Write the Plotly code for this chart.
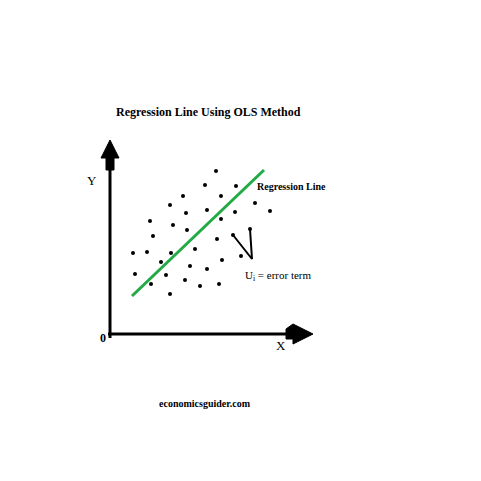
import plotly.graph_objects as go

# scatter points (pixel-like coordinate space, y downward)
pts_x = [208,197,228,175,213,162,247,178,199,227,262,142,213,165,179,242,145,225,209,125,139,163,187,233,214,153,182,199,127,158,143,177,192,211,162]
pts_y = [163,177,178,188,188,197,195,205,202,204,203,213,211,217,222,221,228,227,231,245,244,245,241,248,252,254,258,261,266,267,276,272,278,276,286]
line_x = [124, 256]
line_y = [288, 162]
err_x = [225, 244, 242]
err_y = [227, 251, 221]

F = "Liberation Serif"
fig = go.Figure()
fig.add_trace(go.Scatter(x=[102,102], y=[330,148], mode="lines", line=dict(color="black", width=3)))
fig.add_trace(go.Scatter(x=[100,288], y=[326,326], mode="lines", line=dict(color="black", width=3)))
fig.add_trace(go.Scatter(x=[93,102,111,106,106,98,98,93], y=[150,132,150,150,162,162,150,150], fill="toself",
                         fillcolor="black", line=dict(color="black", width=1), mode="lines"))
fig.add_trace(go.Scatter(x=[285,305,285,285,278,278,285], y=[316,326,336,331,331,321,316], fill="toself",
                         fillcolor="black", line=dict(color="black", width=1), mode="lines"))
fig.add_trace(go.Scatter(x=line_x, y=line_y, mode="lines", line=dict(color="#22aa44", width=3)))
fig.add_trace(go.Scatter(x=err_x, y=err_y, mode="lines", line=dict(color="black", width=2)))
fig.add_trace(go.Scatter(x=pts_x, y=pts_y, mode="markers", marker=dict(color="black", size=4)))

def t(x, y, s, size=11, bold=False):
    fig.add_annotation(x=x, y=y, text=f"<b>{s}</b>" if bold else s, showarrow=False,
                       font=dict(family=F, size=size, color="black"))
t(200, 104, "Regression Line Using OLS Method", 12, True)
t(84, 172, "Y", 13)
t(95, 330, "0", 12, True)
t(273, 337, "X", 13)
t(283, 178, "Regression Line", 10, True)
t(270, 268, "U<sub>i</sub> = error term", 11)
t(197, 395, "economicsguider.com", 10, True)

fig.update_layout(width=481, height=481, margin=dict(l=0, r=0, t=0, b=0), showlegend=False,
                  plot_bgcolor="white", paper_bgcolor="white",
                  xaxis=dict(range=[0,481], visible=False),
                  yaxis=dict(range=[481,0], visible=False))
fig.write_html("out.html")
